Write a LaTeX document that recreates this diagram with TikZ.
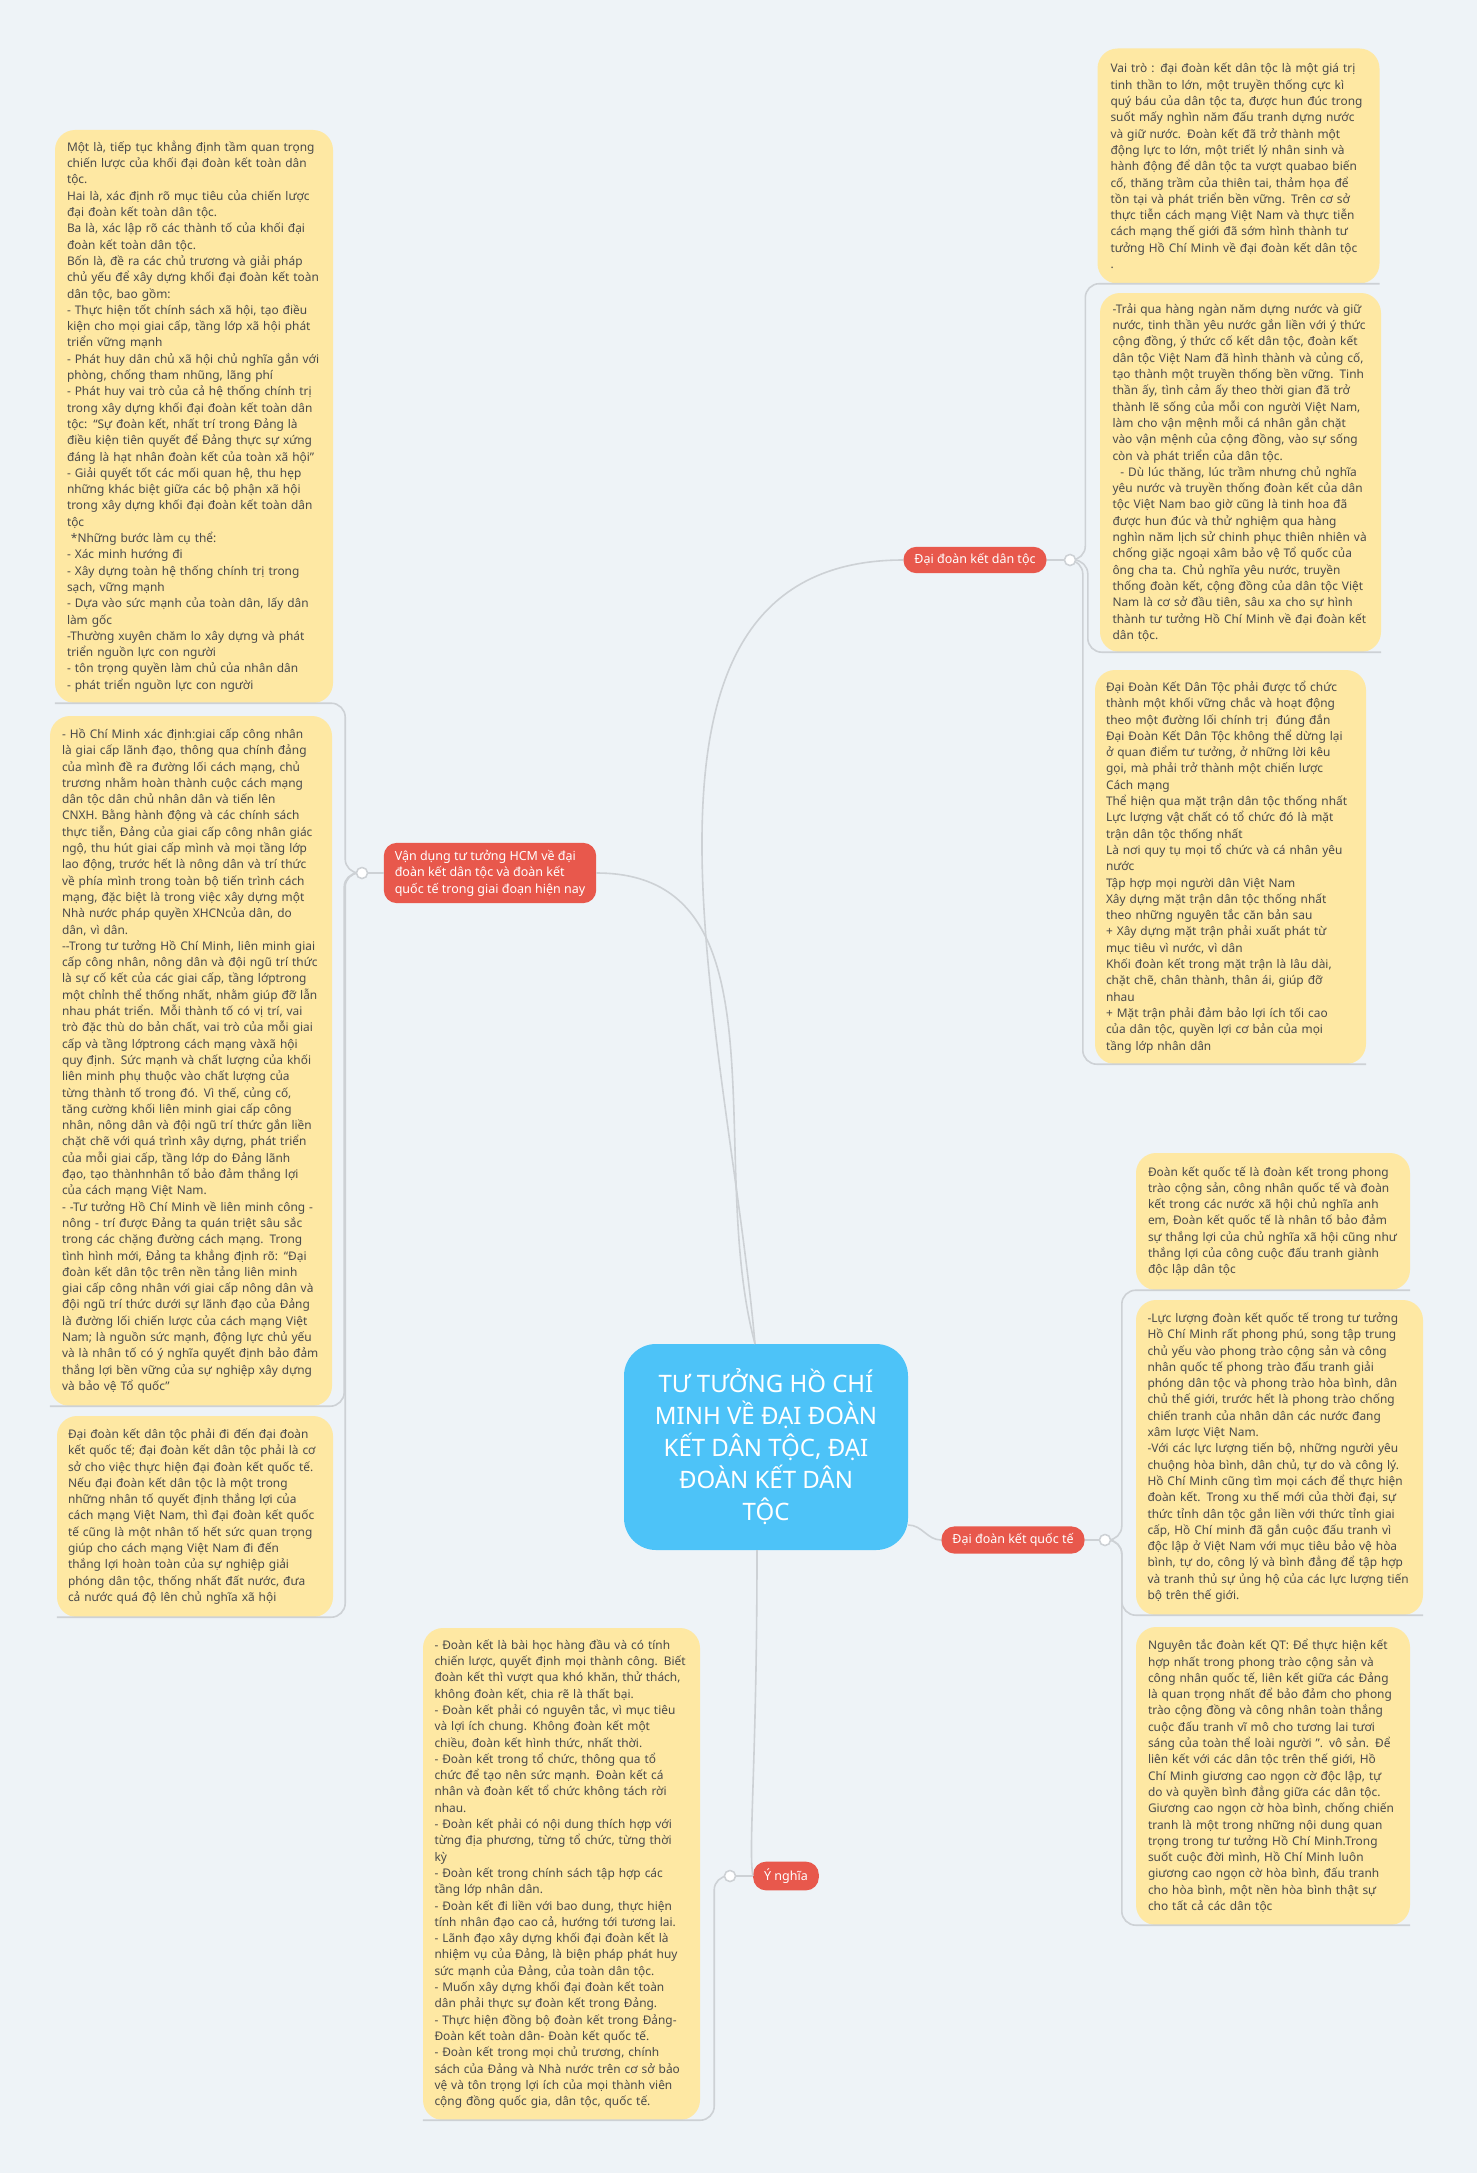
\documentclass[tikz,border=0pt]{standalone}
\usepackage{fontspec}
\setmainfont{Noto Sans}
\definecolor{bg}{HTML}{EEF3F7}
\definecolor{boxy}{HTML}{FEE8A3}
\definecolor{redn}{HTML}{E8584C}
\definecolor{bluec}{HTML}{4DC3F8}
\definecolor{txt}{HTML}{4A4A4A}
\definecolor{ln}{HTML}{CDD1D5}
\tikzset{
  leaf/.style={fill=boxy, rounded corners=20pt, inner sep=0pt, align=left, text=txt, font=\fontsize{11.9}{16.3}\selectfont},
  branch/.style={fill=redn, rounded corners=13pt, text=white, align=left, inner xsep=11pt, inner ysep=7pt, font=\fontsize{12.5}{16.5}\selectfont},
  conn/.style={draw=ln, line width=1.6pt},
  dot/.style={circle, draw=ln, line width=1.4pt, fill=white, minimum size=11pt, inner sep=0pt},
}
\begin{document}
\begin{tikzpicture}[x=1pt,y=-1pt]
\fill[bg] (0,0) rectangle (1477,2173);
\useasboundingbox (0,0) rectangle (1477,2173);

% center
\node[fill=bluec, rounded corners=32pt, minimum width=284pt, minimum height=206pt, text=white, align=center, font=\fontsize{24}{32}\selectfont] (c) at (766,1447) {TƯ TƯỞNG HỒ CHÍ\\MINH VỀ ĐẠI ĐOÀN\\KẾT DÂN TỘC, ĐẠI\\ĐOÀN KẾT DÂN\\TỘC};

% branches
\node[branch] (dt) at (975,560) {Đại đoàn kết dân tộc};
\node[branch] (vd) at (490,873) {Vận dụng tư tưởng HCM về đại\\đoàn kết dân tộc và đoàn kết\\quốc tế trong giai đoạn hiện nay};
\node[branch] (qt) at (1013,1540) {Đại đoàn kết quốc tế};
\node[branch] (yn) at (786,1876) {Ý nghĩa};

% leaves right (dân tộc)
\node[leaf, minimum width=282pt, minimum height=235pt, text width=256pt] (r1) at (1238.5,166) {Vai trò : đại đoàn kết dân tộc là một giá trị\\tinh thần to lớn, một truyền thống cực kì\\quý báu của dân tộc ta, được hun đúc trong\\suốt mấy nghìn năm đấu tranh dựng nước\\và giữ nước. Đoàn kết đã trở thành một\\động lực to lớn, một triết lý nhân sinh và\\hành động để dân tộc ta vượt quabao biến\\cố, thăng trầm của thiên tai, thảm họa để\\tồn tại và phát triển bền vững. Trên cơ sở\\thực tiễn cách mạng Việt Nam và thực tiễn\\cách mạng thế giới đã sớm hình thành tư\\tưởng Hồ Chí Minh về đại đoàn kết dân tộc\\.};
\node[leaf, minimum width=281pt, minimum height=359pt, text width=256pt] (r2) at (1240.5,472.5) {-Trải qua hàng ngàn năm dựng nước và giữ\\nước, tinh thần yêu nước gắn liền với ý thức\\cộng đồng, ý thức cố kết dân tộc, đoàn kết\\dân tộc Việt Nam đã hình thành và củng cố,\\tạo thành một truyền thống bền vững. Tinh\\thần ấy, tình cảm ấy theo thời gian đã trở\\thành lẽ sống của mỗi con người Việt Nam,\\làm cho vận mệnh mỗi cá nhân gắn chặt\\vào vận mệnh của cộng đồng, vào sự sống\\còn và phát triển của dân tộc.\\\ \ - Dù lúc thăng, lúc trầm nhưng chủ nghĩa\\yêu nước và truyền thống đoàn kết của dân\\tộc Việt Nam bao giờ cũng là tinh hoa đã\\được hun đúc và thử nghiệm qua hàng\\nghìn năm lịch sử chinh phục thiên nhiên và\\chống giặc ngoại xâm bảo vệ Tổ quốc của\\ông cha ta. Chủ nghĩa yêu nước, truyền\\thống đoàn kết, cộng đồng của dân tộc Việt\\Nam là cơ sở đầu tiên, sâu xa cho sự hình\\thành tư tưởng Hồ Chí Minh về đại đoàn kết\\dân tộc.};
\node[leaf, minimum width=271pt, minimum height=394pt, text width=249pt] (r3) at (1230.5,867) {Đại Đoàn Kết Dân Tộc phải được tổ chức\\thành một khối vững chắc và hoạt động\\theo một đường lối chính trị\ \ đúng đắn\\Đại Đoàn Kết Dân Tộc không thể dừng lại\\ở quan điểm tư tưởng, ở những lời kêu\\gọi, mà phải trở thành một chiến lược\\Cách mạng\\Thể hiện qua mặt trận dân tộc thống nhất\\Lực lượng vật chất có tổ chức đó là mặt\\trận dân tộc thống nhất\\Là nơi quy tụ mọi tổ chức và cá nhân yêu\\nước\\Tập hợp mọi người dân Việt Nam\\Xây dựng mặt trận dân tộc thống nhất\\theo những nguyên tắc căn bản sau\\+ Xây dựng mặt trận phải xuất phát từ\\mục tiêu vì nước, vì dân\\Khối đoàn kết trong mặt trận là lâu dài,\\chặt chẽ, chân thành, thân ái, giúp đỡ\\nhau\\+ Mặt trận phải đảm bảo lợi ích tối cao\\của dân tộc, quyền lợi cơ bản của mọi\\tầng lớp nhân dân};

% leaves right (quốc tế)
\node[leaf, minimum width=274pt, minimum height=137pt, text width=250pt] (r4) at (1273,1221.5) {Đoàn kết quốc tế là đoàn kết trong phong\\trào cộng sản, công nhân quốc tế và đoàn\\kết trong các nước xã hội chủ nghĩa anh\\em, Đoàn kết quốc tế là nhân tố bảo đảm\\sự thắng lợi của chủ nghĩa xã hội cũng như\\thắng lợi của công cuộc đấu tranh giành\\độc lập dân tộc};
\node[leaf, minimum width=287pt, minimum height=315pt, text width=264pt] (r5) at (1279.5,1457.5) {-Lực lượng đoàn kết quốc tế trong tư tưởng\\Hồ Chí Minh rất phong phú, song tập trung\\chủ yếu vào phong trào cộng sản và công\\nhân quốc tế phong trào đấu tranh giải\\phóng dân tộc và phong trào hòa bình, dân\\chủ thế giới, trước hết là phong trào chống\\chiến tranh của nhân dân các nước đang\\xâm lược Việt Nam.\\-Với các lực lượng tiến bộ, những người yêu\\chuộng hòa bình, dân chủ, tự do và công lý.\\Hồ Chí Minh cũng tìm mọi cách để thực hiện\\đoàn kết. Trong xu thế mới của thời đại, sự\\thức tỉnh dân tộc gắn liền với thức tỉnh giai\\cấp, Hồ Chí minh đã gắn cuộc đấu tranh vì\\độc lập ở Việt Nam với mục tiêu bảo vệ hòa\\bình, tự do, công lý và bình đẳng để tập hợp\\và tranh thủ sự ủng hộ của các lực lượng tiến\\bộ trên thế giới.};
\node[leaf, minimum width=274pt, minimum height=298pt, text width=250pt] (r6) at (1273,1776) {Nguyên tắc đoàn kết QT: Để thực hiện kết\\hợp nhất trong phong trào cộng sản và\\công nhân quốc tế, liên kết giữa các Đảng\\là quan trọng nhất để bảo đảm cho phong\\trào cộng đồng và công nhân toàn thắng\\cuộc đấu tranh vĩ mô cho tương lai tươi\\sáng của toàn thể loài người ”. vô sản. Để\\liên kết với các dân tộc trên thế giới, Hồ\\Chí Minh giương cao ngọn cờ độc lập, tự\\do và quyền bình đẳng giữa các dân tộc.\\Giương cao ngọn cờ hòa bình, chống chiến\\tranh là một trong những nội dung quan\\trọng trong tư tưởng Hồ Chí Minh.Trong\\suốt cuộc đời mình, Hồ Chí Minh luôn\\giương cao ngọn cờ hòa bình, đấu tranh\\cho hòa bình, một nền hòa bình thật sự\\cho tất cả các dân tộc};

% leaves left
\node[leaf, minimum width=278pt, minimum height=573pt, text width=254pt] (l1) at (194,416.5) {Một là, tiếp tục khẳng định tầm quan trọng\\chiến lược của khối đại đoàn kết toàn dân\\tộc.\\Hai là, xác định rõ mục tiêu của chiến lược\\đại đoàn kết toàn dân tộc.\\Ba là, xác lập rõ các thành tố của khối đại\\đoàn kết toàn dân tộc.\\Bốn là, đề ra các chủ trương và giải pháp\\chủ yếu để xây dựng khối đại đoàn kết toàn\\dân tộc, bao gồm:\\- Thực hiện tốt chính sách xã hội, tạo điều\\kiện cho mọi giai cấp, tầng lớp xã hội phát\\triển vững mạnh\\- Phát huy dân chủ xã hội chủ nghĩa gắn với\\phòng, chống tham nhũng, lãng phí\\- Phát huy vai trò của cả hệ thống chính trị\\trong xây dựng khối đại đoàn kết toàn dân\\tộc: “Sự đoàn kết, nhất trí trong Đảng là\\điều kiện tiên quyết để Đảng thực sự xứng\\đáng là hạt nhân đoàn kết của toàn xã hội”\\- Giải quyết tốt các mối quan hệ, thu hẹp\\những khác biệt giữa các bộ phận xã hội\\trong xây dựng khối đại đoàn kết toàn dân\\tộc\\\ *Những bước làm cụ thể:\\- Xác minh hướng đi\\- Xây dựng toàn hệ thống chính trị trong\\sạch, vững mạnh\\- Dựa vào sức mạnh của toàn dân, lấy dân\\làm gốc\\-Thường xuyên chăm lo xây dựng và phát\\triển nguồn lực con người\\- tôn trọng quyền làm chủ của nhân dân\\- phát triển nguồn lực con người};
\node[leaf, minimum width=282pt, minimum height=690pt, text width=258pt] (l2) at (191,1061) {- Hồ Chí Minh xác định:giai cấp công nhân\\là giai cấp lãnh đạo, thông qua chính đảng\\của mình đề ra đường lối cách mạng, chủ\\trương nhằm hoàn thành cuộc cách mạng\\dân tộc dân chủ nhân dân và tiến lên\\CNXH. Bằng hành động và các chính sách\\thực tiễn, Đảng của giai cấp công nhân giác\\ngộ, thu hút giai cấp mình và mọi tầng lớp\\lao động, trước hết là nông dân và trí thức\\về phía mình trong toàn bộ tiến trình cách\\mạng, đặc biệt là trong việc xây dựng một\\Nhà nước pháp quyền XHCNcủa dân, do\\dân, vì dân.\\-{}-Trong tư tưởng Hồ Chí Minh, liên minh giai\\cấp công nhân, nông dân và đội ngũ trí thức\\là sự cố kết của các giai cấp, tầng lớptrong\\một chỉnh thể thống nhất, nhằm giúp đỡ lẫn\\nhau phát triển. Mỗi thành tố có vị trí, vai\\trò đặc thù do bản chất, vai trò của mỗi giai\\cấp và tầng lớptrong cách mạng vàxã hội\\quy định. Sức mạnh và chất lượng của khối\\liên minh phụ thuộc vào chất lượng của\\từng thành tố trong đó. Vì thế, củng cố,\\tăng cường khối liên minh giai cấp công\\nhân, nông dân và đội ngũ trí thức gắn liền\\chặt chẽ với quá trình xây dựng, phát triển\\của mỗi giai cấp, tầng lớp do Đảng lãnh\\đạo, tạo thànhnhân tố bảo đảm thắng lợi\\của cách mạng Việt Nam.\\- -Tư tưởng Hồ Chí Minh về liên minh công -\\nông - trí được Đảng ta quán triệt sâu sắc\\trong các chặng đường cách mạng. Trong\\tình hình mới, Đảng ta khẳng định rõ: “Đại\\đoàn kết dân tộc trên nền tảng liên minh\\giai cấp công nhân với giai cấp nông dân và\\đội ngũ trí thức dưới sự lãnh đạo của Đảng\\là đường lối chiến lược của cách mạng Việt\\Nam; là nguồn sức mạnh, động lực chủ yếu\\và là nhân tố có ý nghĩa quyết định bảo đảm\\thắng lợi bền vững của sự nghiệp xây dựng\\và bảo vệ Tổ quốc”};
\node[leaf, minimum width=276pt, minimum height=201pt, text width=254pt] (l3) at (195,1516.5) {Đại đoàn kết dân tộc phải đi đến đại đoàn\\kết quốc tế; đại đoàn kết dân tộc phải là cơ\\sở cho việc thực hiện đại đoàn kết quốc tế.\\Nếu đại đoàn kết dân tộc là một trong\\những nhân tố quyết định thắng lợi của\\cách mạng Việt Nam, thì đại đoàn kết quốc\\tế cũng là một nhân tố hết sức quan trọng\\giúp cho cách mạng Việt Nam đi đến\\thắng lợi hoàn toàn của sự nghiệp giải\\phóng dân tộc, thống nhất đất nước, đưa\\cả nước quá độ lên chủ nghĩa xã hội};

% leaf bottom
\node[leaf, minimum width=277pt, minimum height=492pt, text width=254pt] (b1) at (561.5,1874) {- Đoàn kết là bài học hàng đầu và có tính\\chiến lược, quyết định mọi thành công. Biết\\đoàn kết thì vượt qua khó khăn, thử thách,\\không đoàn kết, chia rẽ là thất bại.\\- Đoàn kết phải có nguyên tắc, vì mục tiêu\\và lợi ích chung. Không đoàn kết một\\chiều, đoàn kết hình thức, nhất thời.\\- Đoàn kết trong tổ chức, thông qua tổ\\chức để tạo nên sức mạnh. Đoàn kết cá\\nhân và đoàn kết tổ chức không tách rời\\nhau.\\- Đoàn kết phải có nội dung thích hợp với\\từng địa phương, từng tổ chức, từng thời\\kỳ\\- Đoàn kết trong chính sách tập hợp các\\tầng lớp nhân dân.\\- Đoàn kết đi liền với bao dung, thực hiện\\tính nhân đạo cao cả, hướng tới tương lai.\\- Lãnh đạo xây dựng khối đại đoàn kết là\\nhiệm vụ của Đảng, là biện pháp phát huy\\sức mạnh của Đảng, của toàn dân tộc.\\- Muốn xây dựng khối đại đoàn kết toàn\\dân phải thực sự đoàn kết trong Đảng.\\- Thực hiện đồng bộ đoàn kết trong Đảng-\\Đoàn kết toàn dân- Đoàn kết quốc tế.\\- Đoàn kết trong mọi chủ trương, chính\\sách của Đảng và Nhà nước trên cơ sở bảo\\vệ và tôn trọng lợi ích của mọi thành viên\\cộng đồng quốc gia, dân tộc, quốc tế.};

% collapse dots
\node[dot] (rc) at (1070,560) {};
\node[dot] (lc) at (362,873) {};
\node[dot] (qc) at (1105,1540) {};
\node[dot] (yc) at (730,1876) {};

% center -> branches
\draw[conn] (755,1344) to[out=95,in=180] (dt.west);
\draw[conn] (755,1344) to[out=105,in=0] (vd.east);
\draw[conn] (c.east |- 0,1525) to[out=0,in=180] (qt.west);
\draw[conn] (757,1550) .. controls (757,1760) and (748,1850) .. (yn.west);

% branch -> dots
\draw[conn] (dt.east) -- (rc);
\draw[conn] (vd.west) -- (lc);
\draw[conn] (qt.east) -- (qc);
\draw[conn] (yn.west) -- (yc);

% dots -> leaves
\foreach \n in {r1,r2,r3}
  \draw[conn, rounded corners=14pt] (rc.east) -| ([xshift=-12pt]\n.south west) -- (\n.south east);
\foreach \n in {r4,r5,r6}
  \draw[conn, rounded corners=14pt] (qc.east) -| ([xshift=-14pt]\n.south west) -- (\n.south east);
\foreach \n in {l1,l2,l3}
  \draw[conn, rounded corners=14pt] (lc.west) -| ([xshift=12pt]\n.south east) -- (\n.south west);
\draw[conn, rounded corners=14pt] (yc.west) -| ([xshift=14pt]b1.south east) -- (b1.south west);
\node[dot] at (rc) {};
\node[dot] at (lc) {};
\node[dot] at (qc) {};
\node[dot] at (yc) {};
\end{tikzpicture}
\end{document}
